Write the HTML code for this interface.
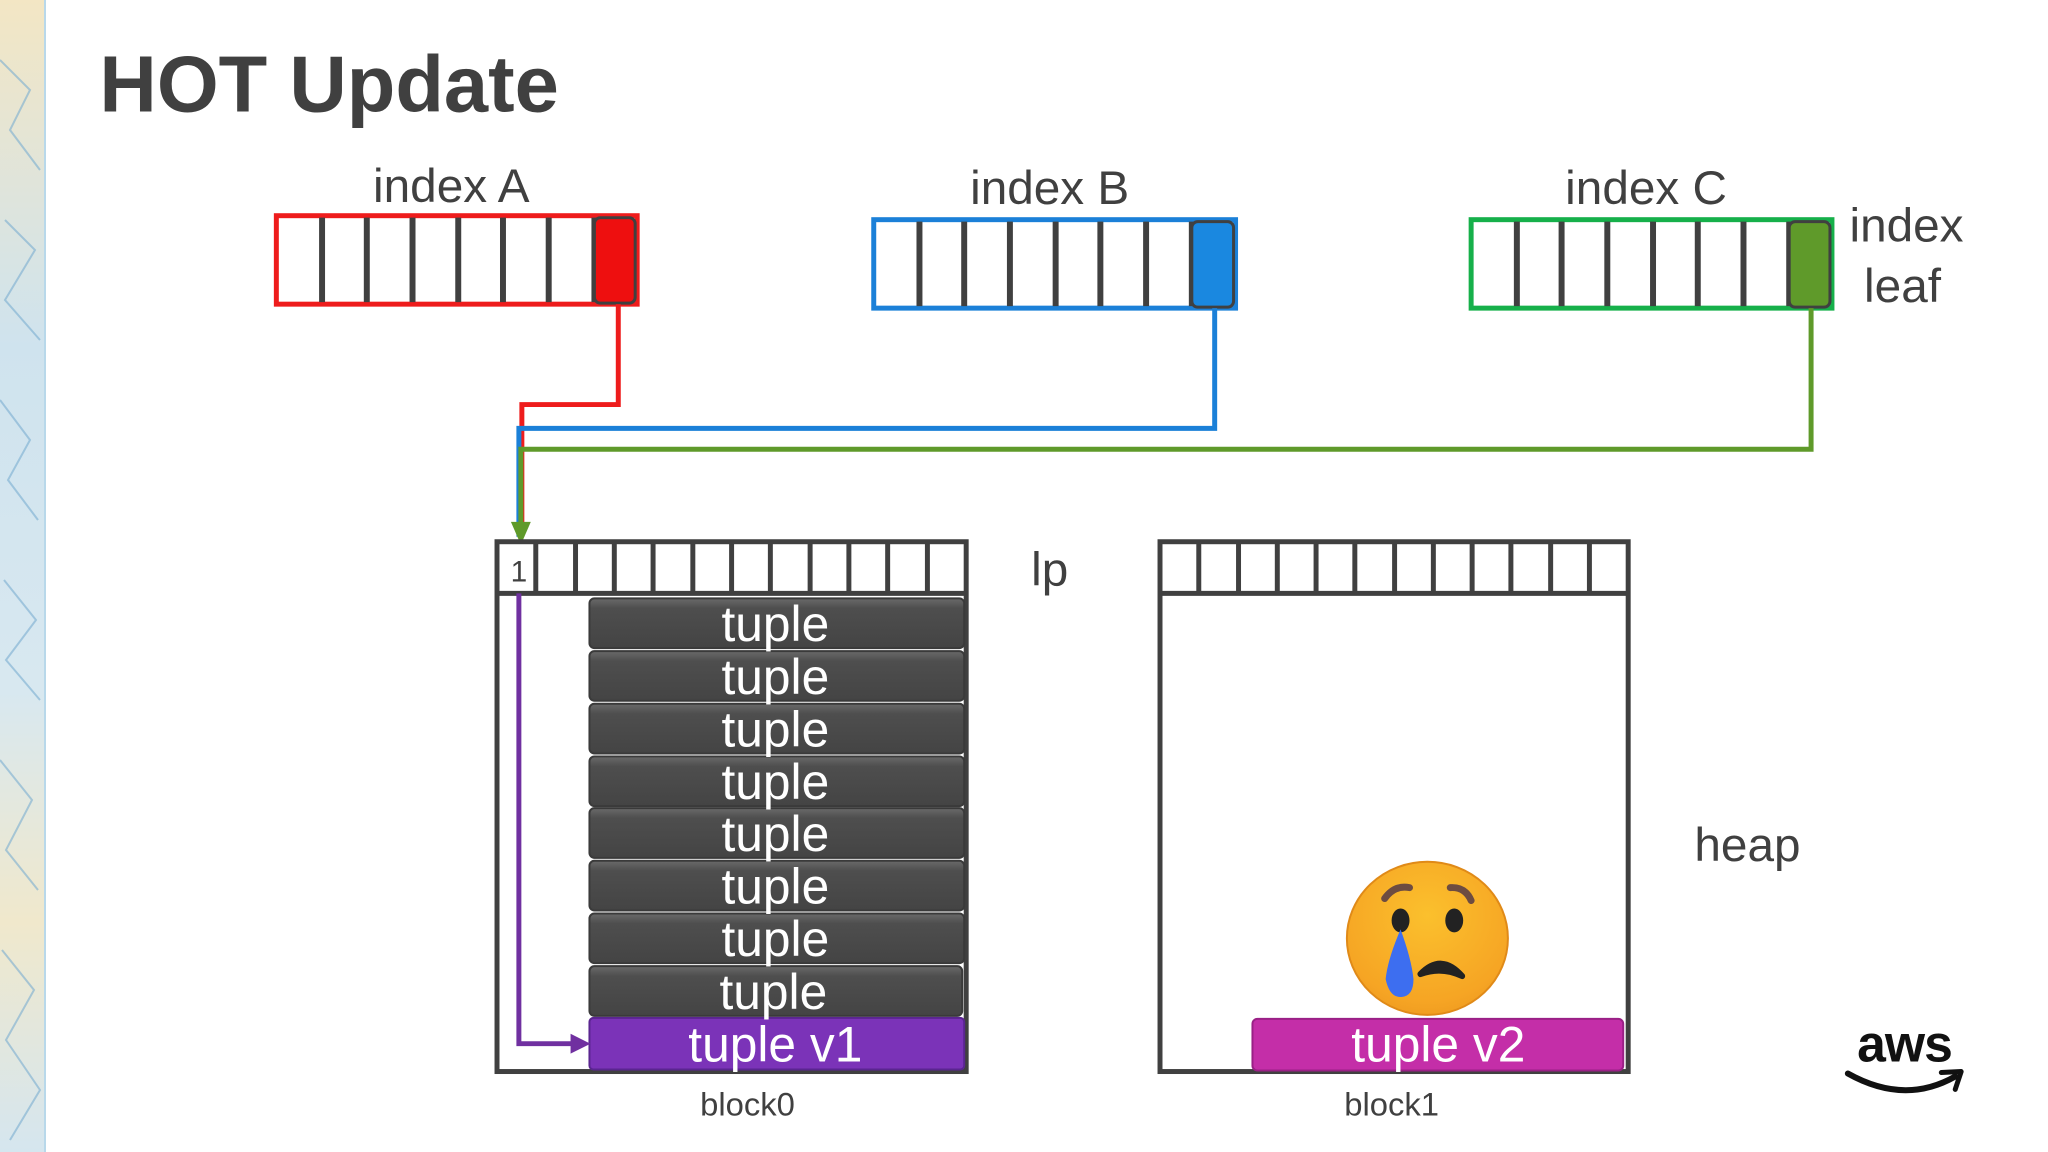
<!DOCTYPE html>
<html><head><meta charset="utf-8"><style>
html,body{margin:0;padding:0;background:#fff;}
svg{display:block;}
text{font-family:"Liberation Sans",sans-serif;}
</style></head><body>
<svg width="2048" height="1152" viewBox="0 0 2048 1152" xmlns="http://www.w3.org/2000/svg">
<defs>
<linearGradient id="strip" x1="0" y1="0" x2="0" y2="1">
<stop offset="0" stop-color="#f3e6c4"/><stop offset="0.3" stop-color="#cfe3ee"/><stop offset="0.6" stop-color="#d8e8f0"/><stop offset="0.8" stop-color="#f0e8cc"/><stop offset="1" stop-color="#d5e6ef"/>
</linearGradient>
<linearGradient id="tg" x1="0" y1="0" x2="0" y2="1"><stop offset="0" stop-color="#6a6a6a"/><stop offset="0.2" stop-color="#4e4e4e"/><stop offset="1" stop-color="#444"/></linearGradient>
<radialGradient id="face" cx="0.5" cy="0.35" r="0.7"><stop offset="0" stop-color="#fbc02d"/><stop offset="0.8" stop-color="#f6a524"/><stop offset="1" stop-color="#ee9a20"/></radialGradient>
</defs>
<rect width="2048" height="1152" fill="#fff"/>
<rect x="0" y="0" width="46" height="1152" fill="url(#strip)"/>
<g stroke="#7aaed0" stroke-width="2" fill="none" opacity="0.6">
<path d="M0 60 L30 90 L10 130 L40 170 M5 220 L35 250 L5 300 L40 340 M0 400 L30 440 L8 480 L38 520 M4 580 L36 620 L6 660 L40 700 M0 760 L32 800 L6 850 L38 890 M2 950 L34 990 L6 1040 L40 1090 L10 1140"/>
</g>
<line x1="45" y1="0" x2="45" y2="1152" stroke="#b8d8ea" stroke-width="2"/>

<g transform="translate(2,0) scale(0.994)">
<text x="98" y="112" font-size="80" font-weight="bold" fill="#404040">HOT Update</text>

<g font-size="48" fill="#404040" text-anchor="middle">
<text x="452" y="203">index A</text>
<text x="1054" y="205">index B</text>
<text x="1654" y="205">index C</text>
<text x="1916" y="243">index</text>
<text x="1912" y="304">leaf</text>
<text x="1054" y="589">lp</text>
<text x="1756" y="866">heap</text>
</g>

<g stroke-width="5" fill="#fff">
<rect x="276" y="217" width="363" height="89" stroke="#ee1c1c"/>
<rect x="877" y="221" width="364" height="89" stroke="#1b80d8"/>
<rect x="1478" y="221" width="363" height="89" stroke="#16b04a"/>
</g>
<g stroke="#404040" stroke-width="6">
<path d="M322 219V304M367 219V304M413 219V304M459 219V304M504 219V304M550 219V304M596 219V304"/>
<path d="M923 223V308M968 223V308M1014 223V308M1060 223V308M1105 223V308M1151 223V308M1197 223V308"/>
<path d="M1524 223V308M1569 223V308M1615 223V308M1661 223V308M1706 223V308M1752 223V308M1798 223V308"/>
</g>
<rect x="596" y="219" width="41" height="86" rx="6" fill="#ee0f0f" stroke="#404040" stroke-width="3"/>
<rect x="1197" y="223" width="42" height="86" rx="6" fill="#1a88e0" stroke="#404040" stroke-width="3"/>
<rect x="1798" y="223" width="41" height="86" rx="6" fill="#5f9a2a" stroke="#404040" stroke-width="3"/>

<g fill="none" stroke-width="5">
<path d="M620 306V407H523V540" stroke="#ee1c1c"/>
<path d="M1220 310V431H520V540" stroke="#1b80d8"/>
<path d="M1820 310V452H522V540" stroke="#5f9a2a"/>
</g>
<polygon points="512,525 532,525 522,548" fill="#5f9a2a"/>

<rect x="498" y="545" width="472" height="533" fill="#fff" stroke="#404040" stroke-width="5"/>
<line x1="498" y1="597" x2="970" y2="597" stroke="#404040" stroke-width="5"/>
<path d="M537 545V597M577 545V597M616 545V597M655 545V597M695 545V597M734 545V597M773 545V597M813 545V597M852 545V597M891 545V597M931 545V597" stroke="#404040" stroke-width="5"/>
<text x="520" y="585" font-size="30" fill="#404040" text-anchor="middle">1</text>

<g fill="url(#tg)" stroke="#3a3a3a" stroke-width="2">
<rect x="591" y="602" width="377" height="50" rx="5"/>
<rect x="591" y="655" width="377" height="50" rx="5"/>
<rect x="591" y="708" width="377" height="50" rx="5"/>
<rect x="591" y="761" width="377" height="50" rx="5"/>
<rect x="591" y="813" width="377" height="50" rx="5"/>
<rect x="591" y="866" width="377" height="50" rx="5"/>
<rect x="591" y="919" width="377" height="50" rx="5"/>
<rect x="591" y="972" width="375" height="50" rx="5"/>
</g>
<rect x="591" y="1024" width="377" height="52" rx="4" fill="#7b33b8" stroke="#5a2590" stroke-width="2"/>
<g font-size="50" fill="#fff" text-anchor="middle">
<text x="778" y="645">tuple</text>
<text x="778" y="698">tuple</text>
<text x="778" y="751">tuple</text>
<text x="778" y="804">tuple</text>
<text x="778" y="856">tuple</text>
<text x="778" y="909">tuple</text>
<text x="778" y="962">tuple</text>
<text x="776" y="1015">tuple</text>
<text x="778" y="1068">tuple v1</text>
</g>
<path d="M520 597V1050H575" fill="none" stroke="#7030a0" stroke-width="5"/>
<polygon points="572,1040 592,1050 572,1060" fill="#7030a0"/>

<rect x="1165" y="545" width="471" height="533" fill="#fff" stroke="#404040" stroke-width="5"/>
<line x1="1165" y1="597" x2="1636" y2="597" stroke="#404040" stroke-width="5"/>
<path d="M1204 545V597M1244 545V597M1283 545V597M1322 545V597M1361 545V597M1401 545V597M1440 545V597M1479 545V597M1518 545V597M1558 545V597M1597 545V597" stroke="#404040" stroke-width="5"/>
<rect x="1258" y="1025" width="373" height="52" rx="5" fill="#c42ea8" stroke="#9a2086" stroke-width="2"/>
<text x="1445" y="1068" font-size="50" fill="#fff" text-anchor="middle">tuple v2</text>

<ellipse cx="1434" cy="944" rx="81" ry="77" fill="url(#face)" stroke="#e08a18" stroke-width="2"/>
<path d="M1391 904 Q1401 890 1416 893" stroke="#6d4c41" stroke-width="7" fill="none" stroke-linecap="round"/>
<path d="M1457 893 Q1472 892 1478 906" stroke="#6d4c41" stroke-width="7" fill="none" stroke-linecap="round"/>
<ellipse cx="1407" cy="926" rx="9" ry="12" fill="#222"/>
<ellipse cx="1461" cy="926" rx="9" ry="12" fill="#222"/>
<path d="M1427 980 Q1448 958 1469 982 Q1448 972 1427 980Z" fill="#222" stroke="#222" stroke-width="6" stroke-linejoin="round"/>
<path d="M1407 935 Q1394 965 1392 985 Q1396 1004 1408 1003 Q1420 1002 1420 985 Q1418 965 1407 935Z" fill="#3d6ef0"/>

<text x="750" y="1122" font-size="33" fill="#404040" text-anchor="middle">block0</text>
<text x="1398" y="1122" font-size="33" fill="#404040" text-anchor="middle">block1</text>

<g transform="translate(9,0)">
<text x="1905" y="1068" font-size="52" fill="#111" text-anchor="middle" font-weight="bold" letter-spacing="-1">aws</text>
<path d="M1848 1080 Q1905 1112 1956 1083" stroke="#111" stroke-width="6" fill="none" stroke-linecap="round"/>
<path d="M1942 1079 L1962 1078 L1956 1096" stroke="#111" stroke-width="5" fill="none" stroke-linecap="round" stroke-linejoin="round"/>
</g>
</g>
</svg>
</body></html>
